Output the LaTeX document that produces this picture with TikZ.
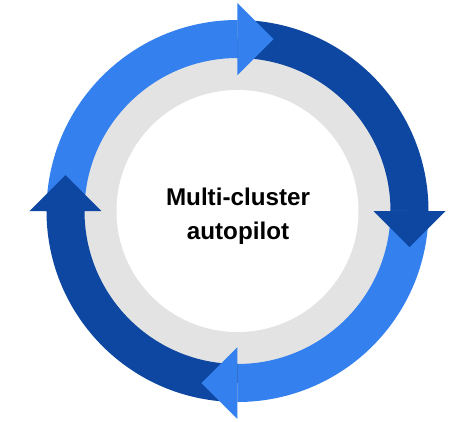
\documentclass[tikz,border=0pt]{standalone}
\usepackage{fontspec}
\setmainfont{Liberation Sans}
\usetikzlibrary{calc}
\definecolor{lightblue}{HTML}{3480EE}
\definecolor{darkblue}{HTML}{0D47A1}
\definecolor{ringgray}{HTML}{E3E3E3}
\tikzset{
  arcseg/.style={line width=38pt},
  headtri/.style={draw=none},
  labeltext/.style={font=\bfseries\fontsize{24.2}{34}\selectfont,anchor=base,inner sep=0pt},
}
\begin{document}
\begin{tikzpicture}[x=1pt,y=1pt]
\useasboundingbox[fill=white] (-237.5,-210) rectangle (236.5,211);
% gray ring and white centre
\fill[ringgray] (0,0) circle[radius=155];
\fill[white] (0,0) circle[radius=121];
% arcs
\draw[arcseg,lightblue] (180:172) arc[start angle=180,end angle=90,radius=172];
\draw[arcseg,darkblue] (90:172) arc[start angle=90,end angle=0,radius=172];
\draw[arcseg,lightblue] (0:172) arc[start angle=0,end angle=-90,radius=172];
\draw[arcseg,darkblue] (-90:172) arc[start angle=-90,end angle=-180,radius=172];
% heads
\foreach \a/\c in {90/lightblue,0/darkblue,-90/lightblue,180/darkblue}{
  \fill[headtri,\c] (\a:136) -- (\a:208) -- ($(\a:172)+(\a-90:36)$) -- cycle;
}
\node[labeltext] (label1) at (0.5,5.7) {Multi-cluster};
\node[labeltext] (label2) at (0.5,-28.3) {autopilot};
\end{tikzpicture}
\end{document}
